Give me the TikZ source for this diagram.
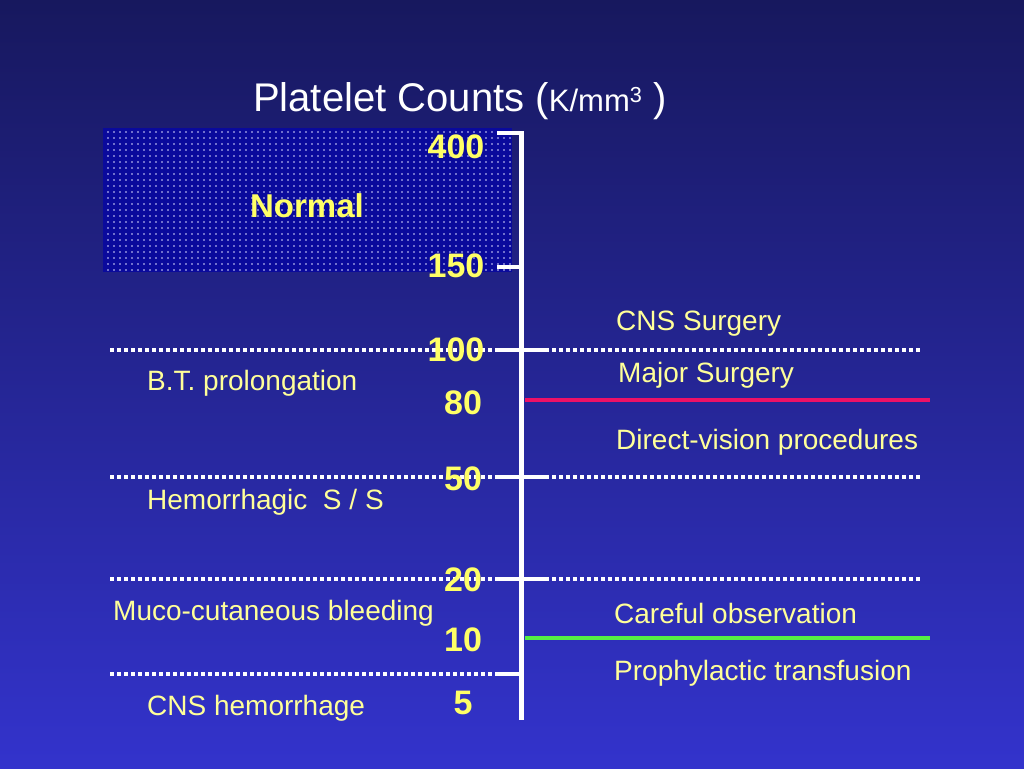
\documentclass[tikz,border=0pt]{standalone}
\usepackage{fontspec}
\setmainfont{Liberation Sans}
\usetikzlibrary{patterns.meta}
\definecolor{bgtop}{HTML}{17185E}
\definecolor{bgbot}{HTML}{3333CC}
\definecolor{boxblue}{HTML}{0A0A9C}
\definecolor{labyellow}{HTML}{FFFF99}
\definecolor{numyellow}{HTML}{FFFF66}
\definecolor{surgred}{HTML}{EE1166}
\definecolor{obsgreen}{HTML}{55EE44}
\begin{document}
\begin{tikzpicture}[x=1pt,y=-1pt]
        \tikzstyle{labtext} = [text=labyellow, font=\fontsize{28}{30}\selectfont, anchor=west, inner sep=0pt]
        \tikzstyle{num} = [text=numyellow, font=\bfseries\fontsize{34}{36}\selectfont, inner sep=0pt]
        \tikzstyle{dotline} = [white, line width=3.5pt, dash pattern=on 3.5pt off 3.5pt]
        \tikzstyle{tick} = [white, line width=3.5pt]

        % background
        \shade[top color=bgtop, bottom color=bgbot] (0,0) rectangle (1024,768);
        \useasboundingbox (0,0) rectangle (1024,768);

        % normal range box
        \fill[boxblue] (103,128) rectangle (512,272);
        \fill[pattern={Dots[distance=6pt, radius=0.9pt]}, pattern color=white!85!blue] (103,128) rectangle (512,272);
        \node[num, font=\bfseries\fontsize{33}{35}\selectfont](normal) at (307,206){Normal};

        % title
        \node[text=white, font=\fontsize{40}{44}\selectfont, inner sep=0pt](title) at (460,101)
            {Platelet Counts ({\fontsize{31}{34}\selectfont K/mm\textsuperscript{3}} )};

        % axis
        \coordinate(top) at (521,131);
        \coordinate(bot) at (521,720);
        \draw[white, line width=5pt] (top) -- (bot);

        % ticks and dotted levels
        \coordinate(t400) at (497,133);
        \coordinate(t150) at (497,267);
        \draw[tick] (t400) -- (521,133);
        \draw[tick] (t150) -- (521,267);
        \foreach \y/\n in {350/100, 477/50, 579/20}{
            \coordinate(l\n) at (110,\y);
            \coordinate(m\n) at (495,\y);
            \coordinate(s\n) at (545,\y);
            \coordinate(r\n) at (920,\y);
            \draw[dotline] (l\n) -- (m\n);
            \draw[tick] (m\n) -- (s\n);
            \draw[dotline] (s\n) -- (r\n);
        }
        \coordinate(l5) at (110,674);
        \coordinate(m5) at (495,674);
        \draw[dotline] (l5) -- (m5);
        \draw[tick] (m5) -- (521,674);

        % coloured thresholds
        \coordinate(red0) at (525,400);
        \coordinate(red1) at (930,400);
        \coordinate(grn0) at (525,638);
        \coordinate(grn1) at (930,638);
        \draw[surgred, line width=4pt] (red0) -- (red1);
        \draw[obsgreen, line width=4pt] (grn0) -- (grn1);

        % axis numbers
        \node[num](n400) at (456,147){400};
        \node[num](n150) at (456,266){150};
        \node[num](n100) at (456,350){100};
        \node[num](n80) at (463,403){80};
        \node[num](n50) at (463,479){50};
        \node[num](n20) at (463,580){20};
        \node[num](n10) at (463,640){10};
        \node[num](n5) at (463,703){5};

        % left labels
        \node[labtext](bt) at (147,383){B.T. prolongation};
        \node[labtext](hem) at (147,502){Hemorrhagic\ \ S / S};
        \node[labtext](muco) at (113,613){Muco-cutaneous bleeding};
        \node[labtext](cnsh) at (147,708){CNS hemorrhage};

        % right labels
        \node[labtext](cnss) at (616,324){CNS Surgery};
        \node[labtext](major) at (618,375){Major Surgery};
        \node[labtext](direct) at (616,442){Direct-vision procedures};
        \node[labtext](careful) at (614,613){Careful observation};
        \node[labtext](proph) at (614,673){Prophylactic transfusion};
    \end{tikzpicture}
\end{document}
